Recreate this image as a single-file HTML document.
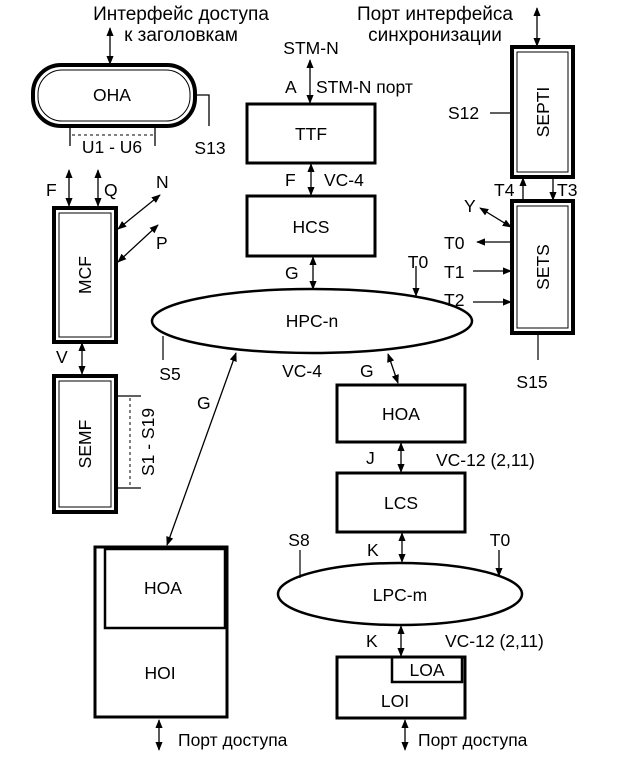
<!DOCTYPE html>
<html><head><meta charset="utf-8"><style>html,body{margin:0;padding:0;background:#fff}svg{display:block}</style></head><body>
<svg width="625" height="757" viewBox="0 0 625 757" xmlns="http://www.w3.org/2000/svg" font-family="Liberation Sans, Arial, sans-serif" font-size="17.5" fill="#000">
<defs>
<marker id="a" viewBox="0 0 10 10" refX="9" refY="5" markerWidth="7" markerHeight="7" orient="auto-start-reverse"><path d="M0,1 L10,5 L0,9 z" fill="#000"/></marker>
</defs>
<g stroke="#000" fill="none">
<rect x="33" y="65" width="162" height="61" rx="28" stroke-width="4"/>
<rect x="38" y="70" width="152" height="51" rx="24" stroke-width="1"/>
<line x1="110" y1="28" x2="110" y2="64" stroke-width="1.3" marker-start="url(#a)" marker-end="url(#a)"/>
<polyline points="195,95 209,95 209,126" stroke-width="1.3"/>
<line x1="70" y1="126" x2="70" y2="146" stroke-width="1.3"/>
<line x1="155" y1="126" x2="155" y2="146" stroke-width="1.3"/>
<line x1="72" y1="135" x2="153" y2="135" stroke-width="1" stroke-dasharray="3,3"/>
<rect x="54" y="208" width="62" height="134" stroke-width="4"/>
<rect x="59" y="213" width="52" height="124" stroke-width="1"/>
<line x1="69" y1="170" x2="69" y2="206" stroke-width="1.3" marker-start="url(#a)" marker-end="url(#a)"/>
<line x1="98" y1="170" x2="98" y2="206" stroke-width="1.3" marker-start="url(#a)" marker-end="url(#a)"/>
<line x1="118" y1="229" x2="160" y2="195" stroke-width="1.3" marker-start="url(#a)" marker-end="url(#a)"/>
<line x1="118" y1="262" x2="158" y2="225" stroke-width="1.3" marker-start="url(#a)" marker-end="url(#a)"/>
<line x1="82" y1="343" x2="82" y2="374" stroke-width="1.3" marker-start="url(#a)" marker-end="url(#a)"/>
<rect x="54" y="376" width="62" height="136" stroke-width="4"/>
<rect x="59" y="381" width="52" height="126" stroke-width="1"/>
<line x1="116" y1="396" x2="141" y2="396" stroke-width="1.3"/>
<line x1="116" y1="488" x2="141" y2="488" stroke-width="1.3"/>
<line x1="130" y1="398" x2="130" y2="486" stroke-width="1" stroke-dasharray="3,3"/>
<rect x="247" y="104" width="128" height="59" stroke-width="3"/>
<rect x="247" y="196" width="128" height="60" stroke-width="3"/>
<line x1="310" y1="60" x2="310" y2="103" stroke-width="1.3" marker-start="url(#a)" marker-end="url(#a)"/>
<line x1="311" y1="164" x2="311" y2="195" stroke-width="1.3" marker-start="url(#a)" marker-end="url(#a)"/>
<line x1="313" y1="257" x2="313" y2="289" stroke-width="1.3" marker-start="url(#a)" marker-end="url(#a)"/>
<ellipse cx="312" cy="321" rx="160" ry="32" stroke-width="2.5"/>
<line x1="163" y1="336" x2="163" y2="360" stroke-width="1.2"/>
<line x1="416" y1="266" x2="416" y2="296" stroke-width="1.3" marker-end="url(#a)"/>
<line x1="388" y1="354" x2="398" y2="383" stroke-width="1.3" marker-start="url(#a)" marker-end="url(#a)"/>
<line x1="236" y1="353" x2="167" y2="545" stroke-width="1.3" marker-start="url(#a)" marker-end="url(#a)"/>
<rect x="337" y="385" width="128" height="57" stroke-width="3"/>
<line x1="401" y1="443" x2="401" y2="472" stroke-width="1.3" marker-start="url(#a)" marker-end="url(#a)"/>
<rect x="337" y="473" width="128" height="59" stroke-width="3"/>
<line x1="402" y1="533" x2="402" y2="562" stroke-width="1.3" marker-start="url(#a)" marker-end="url(#a)"/>
<ellipse cx="400" cy="594" rx="122" ry="31" stroke-width="2.5"/>
<line x1="300" y1="550" x2="300" y2="578" stroke-width="1.2"/>
<line x1="499" y1="550" x2="499" y2="576" stroke-width="1.3" marker-end="url(#a)"/>
<line x1="401" y1="626" x2="401" y2="656" stroke-width="1.3" marker-start="url(#a)" marker-end="url(#a)"/>
<rect x="337" y="657" width="128" height="61" stroke-width="3"/>
<rect x="392" y="657" width="70" height="25" stroke-width="2.5"/>
<line x1="405" y1="720" x2="405" y2="750" stroke-width="1.3" marker-start="url(#a)" marker-end="url(#a)"/>
<rect x="95" y="547" width="132" height="170" stroke-width="3"/>
<rect x="105" y="549" width="120" height="79" stroke-width="2.5"/>
<line x1="159" y1="720" x2="159" y2="750" stroke-width="1.3" marker-start="url(#a)" marker-end="url(#a)"/>
<rect x="512" y="47" width="61" height="130" stroke-width="4"/>
<rect x="517" y="52" width="51" height="120" stroke-width="1"/>
<line x1="537" y1="8" x2="537" y2="46" stroke-width="1.3" marker-start="url(#a)" marker-end="url(#a)"/>
<line x1="490" y1="113" x2="512" y2="113" stroke-width="1.2"/>
<rect x="512" y="201" width="61" height="132" stroke-width="4"/>
<rect x="517" y="206" width="51" height="122" stroke-width="1"/>
<line x1="523" y1="200" x2="523" y2="178" stroke-width="1.3" marker-end="url(#a)"/>
<line x1="553" y1="178" x2="553" y2="200" stroke-width="1.3" marker-end="url(#a)"/>
<line x1="480" y1="208" x2="511" y2="227" stroke-width="1.3" marker-start="url(#a)" marker-end="url(#a)"/>
<line x1="511" y1="242" x2="477" y2="242" stroke-width="1.3" marker-end="url(#a)"/>
<line x1="473" y1="271" x2="511" y2="271" stroke-width="1.3" marker-end="url(#a)"/>
<line x1="473" y1="302" x2="511" y2="302" stroke-width="1.3" marker-end="url(#a)"/>
<line x1="538" y1="334" x2="538" y2="360" stroke-width="1.2"/>
</g>
<g text-anchor="middle">
<text x="181" y="20" font-size="19">Интерфейс доступа</text>
<text x="181" y="41" font-size="19">к заголовкам</text>
<text x="435" y="20" font-size="19">Порт интерфейса</text>
<text x="435" y="41" font-size="19">синхронизации</text>
<text x="112" y="101">OHA</text>
<text x="112" y="153">U1 - U6</text>
<text x="210" y="154">S13</text>
<text x="311" y="54">STM-N</text>
<text x="311" y="140">TTF</text>
<text x="311" y="233">HCS</text>
<text x="312" y="327">HPC-n</text>
<text x="401" y="420">HOA</text>
<text x="401" y="509">LCS</text>
<text x="400" y="601">LPC-m</text>
<text x="427" y="676">LOA</text>
<text x="395" y="707">LOI</text>
<text x="163" y="594">HOA</text>
<text x="160" y="679">HOI</text>
<text x="302" y="377">VC-4</text>
<text x="170" y="380">S5</text>
<text x="299" y="546">S8</text>
<text x="500" y="546">T0</text>
<text x="418" y="268">T0</text>
<text x="532" y="388">S15</text>
</g>
<text x="285" y="93">A</text>
<text x="316" y="93">STM-N порт</text>
<text x="285" y="186">F</text>
<text x="324" y="186">VC-4</text>
<text x="285" y="279">G</text>
<text x="360" y="377">G</text>
<text x="197" y="409">G</text>
<text x="366" y="464">J</text>
<text x="436" y="466">VC-12 (2,11)</text>
<text x="367" y="556">K</text>
<text x="366" y="647">K</text>
<text x="445" y="647">VC-12 (2,11)</text>
<text x="46" y="196">F</text>
<text x="104" y="196">Q</text>
<text x="156" y="188">N</text>
<text x="156" y="249">P</text>
<text x="56" y="363">V</text>
<text x="178" y="746">Порт доступа</text>
<text x="418" y="746">Порт доступа</text>
<text x="448" y="119">S12</text>
<text x="494" y="196">T4</text>
<text x="557" y="196">T3</text>
<text x="464" y="212">Y</text>
<text x="444" y="249">T0</text>
<text x="444" y="278">T1</text>
<text x="444" y="306">T2</text>
<g text-anchor="middle">
<text transform="translate(91,275) rotate(-90)">MCF</text>
<text transform="translate(91,444) rotate(-90)">SEMF</text>
<text transform="translate(154,442) rotate(-90)">S1 - S19</text>
<text transform="translate(549,112) rotate(-90)">SEPTI</text>
<text transform="translate(549,267) rotate(-90)">SETS</text>
</g>
</svg>
</body></html>
